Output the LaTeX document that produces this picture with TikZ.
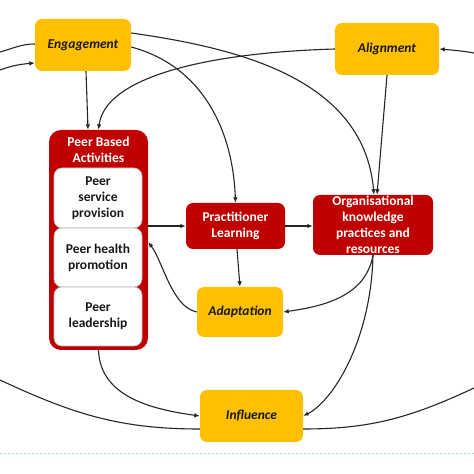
\documentclass[tikz,border=0pt]{standalone}
\usepackage{fontspec}
\setmainfont{Carlito}
\usetikzlibrary{arrows.meta}
\definecolor{gold}{HTML}{FFC000}
\definecolor{dred}{HTML}{C00000}
\definecolor{dotc}{HTML}{A9D6D6}
\begin{document}
\begin{tikzpicture}[x=1pt,y=1pt,
  txt/.style={font=\fontsize{13.5}{16}\selectfont\bfseries, align=center, inner sep=0pt},
  goldbox/.style={txt, fill=gold, rounded corners=7pt, text=black!90, font=\fontsize{13.5}{16}\selectfont\bfseries\itshape},
  redbox/.style={txt, fill=dred, rounded corners=7pt, text=white},
  whitebox/.style={txt, fill=white, draw=gray!55, line width=0.6pt, rounded corners=8pt, text=black!90, minimum width=88pt, minimum height=59pt},
  conn/.style={line width=1.1pt, draw=black!85},
  arr/.style={conn, -{Latex[length=5.5pt,width=4.5pt]}}
]
\useasboundingbox (0,0) rectangle (474,474);
\fill[white] (0,0) rectangle (474,474);

% dotted base line
\coordinate (D1) at (0,21);
\coordinate (D2) at (474,21);
\draw[dotc, line width=0.8pt, dash pattern=on 2pt off 2pt] (D1) -- (D2);

% nodes
\node[goldbox, minimum width=96pt, minimum height=52pt] (eng) at (83,429) {Engagement};
\node[goldbox, minimum width=104pt, minimum height=52pt] (ali) at (387,425) {Alignment};
\node[fill=dred, rounded corners=12pt, minimum width=99pt, minimum height=220pt, inner sep=0pt] (pba) at (98.5,234) {};
\node[txt, text=white] (pbat) at (98.5,324) {Peer Based\\Activities};
\node[whitebox, minimum height=60pt] (psp) at (98,276) {Peer\\service\\provision};
\node[whitebox] (php) at (98,216.5) {Peer health\\promotion};
\node[whitebox] (pl) at (98,157.5) {Peer\\leadership};
\node[redbox, minimum width=99pt, minimum height=46pt] (prl) at (235.5,248) {Practitioner\\Learning};
\node[redbox, minimum width=120pt, minimum height=60pt] (org) at (373,249) {Organisational\\knowledge\\practices and\\resources};
\node[goldbox, minimum width=86pt, minimum height=50pt] (ada) at (240,162) {Adaptation};
\node[goldbox, minimum width=103pt, minimum height=52pt] (inf) at (251.5,58) {Influence};

% free ends
\coordinate (L1) at (0,422);
\coordinate (L2) at (0,404);
\coordinate (L3) at (0,94);
\coordinate (R1) at (474,86);
\coordinate (R2) at (474,421);

% connectors
\draw[conn] ([yshift=1pt]eng.west) to[out=180,in=15] (L1);
\draw[arr] (L2) to[out=20,in=185] ([yshift=-18pt]eng.west);
\draw[arr] ([yshift=12pt]eng.east) to[out=-8,in=95] ([xshift=1pt]org.north);
\draw[arr] ([yshift=-2pt]eng.east) to[out=-15,in=92] (prl.north);
\draw[arr] (ali.west) .. controls +(-135,-4) and +(6.5,51) .. (pba.north);
\draw[arr] ([xshift=3pt]eng.south) -- ([xshift=-10.5pt]pba.north);
\draw[arr] (ali.south) -- ([xshift=4pt]org.north);
\draw[arr] (pba.east |- prl.west) -- (prl.west);
\draw[arr] (prl.east) -- (prl.east -| org.west);
\draw[arr] ([xshift=1.5pt]prl.south) -- (ada.north);
\draw[arr] (ada.west) .. controls +(-25,5) and +(15,-20) .. ([yshift=-2pt]pba.east);
\draw[arr] (org.south) to[out=-100,in=8] (ada.east);
\draw[arr] (org.south) .. controls +(-2,-85) and +(30,15) .. (inf.east);
\draw[arr] (pba.south) to[out=-88,in=172] (inf.west);
\draw[conn] ([yshift=-13pt]inf.west) to[out=180,in=-25] (L3);
\draw[conn] ([yshift=-13pt]inf.east) to[out=0,in=-155] (R1);
\draw[arr] (R2) to[out=170,in=-5] (ali.east);
\end{tikzpicture}
\end{document}
